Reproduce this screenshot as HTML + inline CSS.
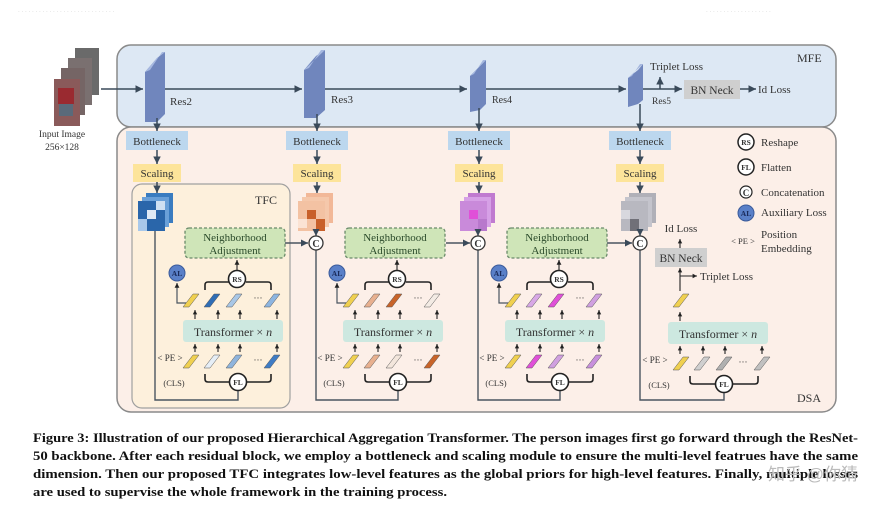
<!DOCTYPE html>
<html><head><meta charset="utf-8"><style>
html,body{margin:0;padding:0;background:#fff;width:878px;height:513px;overflow:hidden}
svg{display:block}
text{font-family:"Liberation Serif",serif;fill:#333}
.c{font-weight:bold;font-size:13px;fill:#111}
</style></head><body>
<svg width="878" height="513" viewBox="0 0 878 513" xmlns="http://www.w3.org/2000/svg">
<defs>
<marker id="a" markerWidth="6" markerHeight="6" refX="5" refY="3" orient="auto"><path d="M0,0.5 L5,3 L0,5.5z" fill="#3a4a5a"/></marker>
<marker id="b" markerWidth="5" markerHeight="5" refX="4" refY="2.5" orient="auto"><path d="M0,0.5 L4,2.5 L0,4.5z" fill="#222"/></marker>
</defs>
<text x="18" y="12" font-size="7" style="fill:#ddd">. . . . . . . . . . . . . . . . . . . . . . . . . . . .</text>
<text x="706" y="12" font-size="7" style="fill:#ddd">. . . . . . . . . . . . . . . . . . .</text>

<rect x="117" y="45" width="719" height="82" rx="14" fill="#dde8f4" stroke="#8a8a8a" stroke-width="1.5"/>
<rect x="117" y="127" width="719" height="285" rx="14" fill="#fcefe8" stroke="#8a8a8a" stroke-width="1.5"/>
<text x="797" y="62" font-size="12">MFE</text>
<text x="797" y="402" font-size="12">DSA</text>
<rect x="132" y="184" width="158" height="224" rx="10" fill="#fdf0dc" stroke="#a0a0a0" stroke-width="1.2"/>
<text x="255" y="204" font-size="12">TFC</text>

<rect x="75" y="48" width="24" height="47" fill="#6a6a6a"/>
<rect x="68" y="58" width="24" height="47" fill="#7a7070"/>
<rect x="61" y="68" width="24" height="47" fill="#756565"/>
<rect x="54" y="79" width="26" height="47" fill="#8a5a5a"/>
<rect x="58" y="88" width="16" height="16" fill="#9a2a30"/>
<rect x="59" y="104" width="14" height="12" fill="#5a6a7a"/>
<text x="62" y="137" font-size="9.5" text-anchor="middle">Input Image</text>
<text x="62" y="150" font-size="9.5" text-anchor="middle">256×128</text>

<g stroke="#3a4a5a" stroke-width="1.5" fill="none">
<line x1="101" y1="89" x2="143" y2="89" marker-end="url(#a)"/>
<line x1="158" y1="89" x2="302" y2="89" marker-end="url(#a)"/>
<line x1="318" y1="89" x2="467" y2="89" marker-end="url(#a)"/>
<line x1="482" y1="89" x2="626" y2="89" marker-end="url(#a)"/>
<line x1="640" y1="89" x2="682" y2="89" marker-end="url(#a)"/>
<line x1="740" y1="89" x2="756" y2="89" marker-end="url(#a)"/>
<line x1="660" y1="89" x2="660" y2="77" marker-end="url(#a)"/>
</g>
<polygon points="145,72 157,58 165,52 165,114 157,122 145,122" fill="#7086bd"/>
<polygon points="145,72 150,70 162,52 165,52 157,58" fill="#a6b8e0"/>
<polygon points="304,70 316,56 325,50 325,110 316,118 304,118" fill="#7086bd"/>
<polygon points="304,70 309,68 321,50 325,50" fill="#a6b8e0"/>
<polygon points="470,76 480,66 486,60 486,104 480,110 470,112" fill="#7086bd"/>
<polygon points="470,76 474,74 483,60 486,60" fill="#a6b8e0"/>
<polygon points="628,78 638,70 643,64 643,100 638,104 628,107" fill="#7086bd"/>
<polygon points="628,78 632,76 640,64 643,64" fill="#a6b8e0"/>
<text x="170" y="105" font-size="11">Res2</text>
<text x="331" y="103" font-size="11">Res3</text>
<text x="492" y="103" font-size="10">Res4</text>
<text x="652" y="104" font-size="9.5">Res5</text>
<text x="650" y="70" font-size="11">Triplet Loss</text>
<rect x="684" y="80" width="56" height="19" fill="#cfcfcf"/>
<text x="712" y="94" font-size="11.5" text-anchor="middle">BN Neck</text>
<text x="758" y="93" font-size="11">Id Loss</text>

<g stroke="#3a4a5a" stroke-width="1.5" fill="none">
<line x1="157" y1="118" x2="157" y2="131" marker-end="url(#a)"/>
<line x1="317" y1="114" x2="317" y2="131" marker-end="url(#a)"/>
<line x1="479" y1="108" x2="479" y2="131" marker-end="url(#a)"/>
<line x1="640" y1="104" x2="640" y2="131" marker-end="url(#a)"/>
</g>

<g>
<rect x="126" y="131" width="62" height="19" fill="#bcd7ee"/><text x="157" y="145" font-size="11" text-anchor="middle">Bottleneck</text>
<rect x="286" y="131" width="62" height="19" fill="#bcd7ee"/><text x="317" y="145" font-size="11" text-anchor="middle">Bottleneck</text>
<rect x="448" y="131" width="62" height="19" fill="#bcd7ee"/><text x="479" y="145" font-size="11" text-anchor="middle">Bottleneck</text>
<rect x="609" y="131" width="62" height="19" fill="#bcd7ee"/><text x="640" y="145" font-size="11" text-anchor="middle">Bottleneck</text>
<rect x="133" y="164" width="48" height="18" fill="#fde49a"/><text x="157" y="177" font-size="11" text-anchor="middle">Scaling</text>
<rect x="293" y="164" width="48" height="18" fill="#fde49a"/><text x="317" y="177" font-size="11" text-anchor="middle">Scaling</text>
<rect x="455" y="164" width="48" height="18" fill="#fde49a"/><text x="479" y="177" font-size="11" text-anchor="middle">Scaling</text>
<rect x="616" y="164" width="48" height="18" fill="#fde49a"/><text x="640" y="177" font-size="11" text-anchor="middle">Scaling</text>
</g>
<g stroke="#3a4a5a" stroke-width="1.5" fill="none">
<line x1="157" y1="150" x2="157" y2="164" marker-end="url(#a)"/>
<line x1="317" y1="150" x2="317" y2="164" marker-end="url(#a)"/>
<line x1="479" y1="150" x2="479" y2="164" marker-end="url(#a)"/>
<line x1="640" y1="150" x2="640" y2="164" marker-end="url(#a)"/>
<line x1="157" y1="182" x2="157" y2="193" marker-end="url(#a)"/>
<line x1="317" y1="182" x2="317" y2="193" marker-end="url(#a)"/>
<line x1="479" y1="182" x2="479" y2="193" marker-end="url(#a)"/>
<line x1="640" y1="182" x2="640" y2="193" marker-end="url(#a)"/>
</g>

<g>
<rect x="146" y="193" width="27" height="30" fill="#3a7cc0"/><rect x="142" y="197" width="27" height="30" fill="#6aa0d8"/><rect x="138" y="201" width="27" height="30" fill="#2a66aa"/>
<rect x="147" y="210" width="9" height="9" fill="#dfeaf6"/><rect x="138" y="219" width="9" height="12" fill="#a8c8ea"/><rect x="156" y="201" width="9" height="9" fill="#cfe0f2"/>
<rect x="306" y="193" width="27" height="30" fill="#f2b898"/><rect x="302" y="197" width="27" height="30" fill="#f5c8ab"/><rect x="298" y="201" width="27" height="30" fill="#f3c2a3"/>
<rect x="307" y="210" width="9" height="9" fill="#c8602a"/><rect x="316" y="219" width="9" height="12" fill="#c8602a"/><rect x="298" y="219" width="9" height="9" fill="#fbe3d4"/>
<rect x="468" y="193" width="27" height="30" fill="#c07ad0"/><rect x="464" y="197" width="27" height="30" fill="#d6a0e6"/><rect x="460" y="201" width="27" height="30" fill="#c98ada"/>
<rect x="469" y="210" width="9" height="9" fill="#e050d8"/><rect x="478" y="219" width="9" height="12" fill="#b878cc"/>
<rect x="629" y="193" width="27" height="30" fill="#b0b0b8"/><rect x="625" y="197" width="27" height="30" fill="#c4c4cc"/><rect x="621" y="201" width="27" height="30" fill="#b8b8c0"/>
<rect x="630" y="219" width="9" height="12" fill="#707078"/><rect x="621" y="210" width="9" height="9" fill="#d8d8de"/>
</g>

<g stroke="#4a5560" stroke-width="1.4" fill="none">
<polyline points="155,231 155,400 238,400 238,391"/>
<line x1="316" y1="231" x2="316" y2="236" marker-end="url(#a)"/>
<line x1="478" y1="231" x2="478" y2="236" marker-end="url(#a)"/>
<line x1="640" y1="231" x2="640" y2="236" marker-end="url(#a)"/>
<line x1="285" y1="243" x2="308" y2="243" marker-end="url(#a)"/>
<line x1="446" y1="243" x2="470" y2="243" marker-end="url(#a)"/>
<line x1="607" y1="243" x2="632" y2="243" marker-end="url(#a)"/>
<polyline points="316,250 316,400 398,400 398,391"/>
<polyline points="478,250 478,400 560,400 560,391"/>
<polyline points="640,250 640,400 724,400 724,391"/>
</g>
<g fill="#fff" stroke="#333" stroke-width="1.3">
<circle cx="316" cy="243" r="7"/><circle cx="478" cy="243" r="7"/><circle cx="640" cy="243" r="7"/>
</g>
<g font-size="10" font-weight="bold" text-anchor="middle">
<text x="316" y="247">C</text><text x="478" y="247">C</text><text x="640" y="247">C</text>
</g>

<g>
<rect x="185" y="228" width="100" height="30" rx="4" fill="#cfe5b8" stroke="#6a8a6a" stroke-dasharray="3,2" stroke-width="1.3"/>
<text x="235" y="241" font-size="11" text-anchor="middle" style="fill:#2a4a2a">Neighborhood</text>
<text x="235" y="254" font-size="11" text-anchor="middle" style="fill:#2a4a2a">Adjustment</text>
<path d="M205,290 v-5 q0,-3 3,-3 h22 M246,282 h22 q3,0 3,3 v5" stroke="#222" stroke-width="1.6" fill="none"/>
<line x1="237" y1="270" x2="237" y2="260" stroke="#333" stroke-width="1.2" marker-end="url(#b)"/>
<circle cx="237" cy="279" r="8.5" fill="#fff" stroke="#222" stroke-width="1.6"/>
<text x="237" y="282" font-size="7.5" font-weight="bold" text-anchor="middle">RS</text>
<polyline points="186,303 177,303 177,283" stroke="#4a5560" stroke-width="1.2" fill="none" marker-end="url(#b)"/>
<circle cx="177" cy="273" r="8" fill="#5a80c8" stroke="#3a5a9a"/>
<text x="177" y="276" font-size="7.5" font-weight="bold" text-anchor="middle" style="fill:#1a2a5a">AL</text>
<rect x="183" y="320" width="100" height="22" rx="3" fill="#cde8e0"/>
<text x="233" y="336" font-size="12" text-anchor="middle">Transformer × <tspan font-style="italic">n</tspan></text>
<g stroke="#222" stroke-width="1.1">
<line x1="195" y1="319" x2="195" y2="310" marker-end="url(#b)"/><line x1="218" y1="319" x2="218" y2="310" marker-end="url(#b)"/><line x1="240" y1="319" x2="240" y2="310" marker-end="url(#b)"/><line x1="277" y1="319" x2="277" y2="310" marker-end="url(#b)"/>
<line x1="195" y1="352" x2="195" y2="344" marker-end="url(#b)"/><line x1="218" y1="352" x2="218" y2="344" marker-end="url(#b)"/><line x1="240" y1="352" x2="240" y2="344" marker-end="url(#b)"/><line x1="277" y1="352" x2="277" y2="344" marker-end="url(#b)"/>
</g>
<text x="258" y="301" font-size="9" text-anchor="middle">···</text>
<text x="258" y="363" font-size="9" text-anchor="middle">···</text>
<text x="170" y="361" font-size="9" text-anchor="middle">&lt; PE &gt;</text>
<text x="174" y="386" font-size="8.5" text-anchor="middle">(CLS)</text>
<path d="M205,374 v5 q0,3 3,3 h21 M247,382 h21 q3,0 3,-3 v-5" stroke="#222" stroke-width="1.6" fill="none"/>
<circle cx="238" cy="382" r="8.5" fill="#fff" stroke="#222" stroke-width="1.6"/>
<text x="238" y="385" font-size="7.5" font-weight="bold" text-anchor="middle">FL</text>
</g>
<g transform="translate(160,0)">
<rect x="185" y="228" width="100" height="30" rx="4" fill="#cfe5b8" stroke="#6a8a6a" stroke-dasharray="3,2" stroke-width="1.3"/>
<text x="235" y="241" font-size="11" text-anchor="middle" style="fill:#2a4a2a">Neighborhood</text>
<text x="235" y="254" font-size="11" text-anchor="middle" style="fill:#2a4a2a">Adjustment</text>
<path d="M205,290 v-5 q0,-3 3,-3 h22 M246,282 h22 q3,0 3,3 v5" stroke="#222" stroke-width="1.6" fill="none"/>
<line x1="237" y1="270" x2="237" y2="260" stroke="#333" stroke-width="1.2" marker-end="url(#b)"/>
<circle cx="237" cy="279" r="8.5" fill="#fff" stroke="#222" stroke-width="1.6"/>
<text x="237" y="282" font-size="7.5" font-weight="bold" text-anchor="middle">RS</text>
<polyline points="186,303 177,303 177,283" stroke="#4a5560" stroke-width="1.2" fill="none" marker-end="url(#b)"/>
<circle cx="177" cy="273" r="8" fill="#5a80c8" stroke="#3a5a9a"/>
<text x="177" y="276" font-size="7.5" font-weight="bold" text-anchor="middle" style="fill:#1a2a5a">AL</text>
<rect x="183" y="320" width="100" height="22" rx="3" fill="#cde8e0"/>
<text x="233" y="336" font-size="12" text-anchor="middle">Transformer × <tspan font-style="italic">n</tspan></text>
<g stroke="#222" stroke-width="1.1">
<line x1="195" y1="319" x2="195" y2="310" marker-end="url(#b)"/><line x1="218" y1="319" x2="218" y2="310" marker-end="url(#b)"/><line x1="240" y1="319" x2="240" y2="310" marker-end="url(#b)"/><line x1="277" y1="319" x2="277" y2="310" marker-end="url(#b)"/>
<line x1="195" y1="352" x2="195" y2="344" marker-end="url(#b)"/><line x1="218" y1="352" x2="218" y2="344" marker-end="url(#b)"/><line x1="240" y1="352" x2="240" y2="344" marker-end="url(#b)"/><line x1="277" y1="352" x2="277" y2="344" marker-end="url(#b)"/>
</g>
<text x="258" y="301" font-size="9" text-anchor="middle">···</text>
<text x="258" y="363" font-size="9" text-anchor="middle">···</text>
<text x="170" y="361" font-size="9" text-anchor="middle">&lt; PE &gt;</text>
<text x="174" y="386" font-size="8.5" text-anchor="middle">(CLS)</text>
<path d="M205,374 v5 q0,3 3,3 h21 M247,382 h21 q3,0 3,-3 v-5" stroke="#222" stroke-width="1.6" fill="none"/>
<circle cx="238" cy="382" r="8.5" fill="#fff" stroke="#222" stroke-width="1.6"/>
<text x="238" y="385" font-size="7.5" font-weight="bold" text-anchor="middle">FL</text>
</g>
<g transform="translate(322,0)">
<rect x="185" y="228" width="100" height="30" rx="4" fill="#cfe5b8" stroke="#6a8a6a" stroke-dasharray="3,2" stroke-width="1.3"/>
<text x="235" y="241" font-size="11" text-anchor="middle" style="fill:#2a4a2a">Neighborhood</text>
<text x="235" y="254" font-size="11" text-anchor="middle" style="fill:#2a4a2a">Adjustment</text>
<path d="M205,290 v-5 q0,-3 3,-3 h22 M246,282 h22 q3,0 3,3 v5" stroke="#222" stroke-width="1.6" fill="none"/>
<line x1="237" y1="270" x2="237" y2="260" stroke="#333" stroke-width="1.2" marker-end="url(#b)"/>
<circle cx="237" cy="279" r="8.5" fill="#fff" stroke="#222" stroke-width="1.6"/>
<text x="237" y="282" font-size="7.5" font-weight="bold" text-anchor="middle">RS</text>
<polyline points="186,303 177,303 177,283" stroke="#4a5560" stroke-width="1.2" fill="none" marker-end="url(#b)"/>
<circle cx="177" cy="273" r="8" fill="#5a80c8" stroke="#3a5a9a"/>
<text x="177" y="276" font-size="7.5" font-weight="bold" text-anchor="middle" style="fill:#1a2a5a">AL</text>
<rect x="183" y="320" width="100" height="22" rx="3" fill="#cde8e0"/>
<text x="233" y="336" font-size="12" text-anchor="middle">Transformer × <tspan font-style="italic">n</tspan></text>
<g stroke="#222" stroke-width="1.1">
<line x1="195" y1="319" x2="195" y2="310" marker-end="url(#b)"/><line x1="218" y1="319" x2="218" y2="310" marker-end="url(#b)"/><line x1="240" y1="319" x2="240" y2="310" marker-end="url(#b)"/><line x1="277" y1="319" x2="277" y2="310" marker-end="url(#b)"/>
<line x1="195" y1="352" x2="195" y2="344" marker-end="url(#b)"/><line x1="218" y1="352" x2="218" y2="344" marker-end="url(#b)"/><line x1="240" y1="352" x2="240" y2="344" marker-end="url(#b)"/><line x1="277" y1="352" x2="277" y2="344" marker-end="url(#b)"/>
</g>
<text x="258" y="301" font-size="9" text-anchor="middle">···</text>
<text x="258" y="363" font-size="9" text-anchor="middle">···</text>
<text x="170" y="361" font-size="9" text-anchor="middle">&lt; PE &gt;</text>
<text x="174" y="386" font-size="8.5" text-anchor="middle">(CLS)</text>
<path d="M205,374 v5 q0,3 3,3 h21 M247,382 h21 q3,0 3,-3 v-5" stroke="#222" stroke-width="1.6" fill="none"/>
<circle cx="238" cy="382" r="8.5" fill="#fff" stroke="#222" stroke-width="1.6"/>
<text x="238" y="385" font-size="7.5" font-weight="bold" text-anchor="middle">FL</text>
</g>

<g>
<rect x="668" y="322" width="100" height="22" rx="3" fill="#cde8e0"/>
<text x="718" y="338" font-size="12" text-anchor="middle">Transformer × <tspan font-style="italic">n</tspan></text>
<g stroke="#222" stroke-width="1.1">
<line x1="680" y1="321" x2="680" y2="312" marker-end="url(#b)"/>
<line x1="680" y1="354" x2="680" y2="346" marker-end="url(#b)"/><line x1="703" y1="354" x2="703" y2="346" marker-end="url(#b)"/><line x1="725" y1="354" x2="725" y2="346" marker-end="url(#b)"/><line x1="762" y1="354" x2="762" y2="346" marker-end="url(#b)"/>
<line x1="680" y1="291" x2="680" y2="268" marker-end="url(#b)"/>
<line x1="680" y1="276" x2="697" y2="276" marker-end="url(#b)"/>
<line x1="680" y1="248" x2="680" y2="239" marker-end="url(#b)"/>
</g>
<rect x="655" y="248" width="52" height="19" fill="#cfcfcf"/>
<text x="681" y="262" font-size="11.5" text-anchor="middle">BN Neck</text>
<text x="681" y="232" font-size="11" text-anchor="middle">Id Loss</text>
<text x="700" y="280" font-size="11">Triplet Loss</text>
<text x="743" y="365" font-size="9" text-anchor="middle">···</text>
<text x="655" y="363" font-size="9" text-anchor="middle">&lt; PE &gt;</text>
<text x="659" y="388" font-size="8.5" text-anchor="middle">(CLS)</text>
<path d="M690,376 v5 q0,3 3,3 h22 M733,384 h22 q3,0 3,-3 v-5" stroke="#222" stroke-width="1.6" fill="none"/>
<circle cx="724" cy="384" r="8.5" fill="#fff" stroke="#222" stroke-width="1.6"/>
<text x="724" y="387" font-size="7.5" font-weight="bold" text-anchor="middle">FL</text>
</g>

<g stroke="#555" stroke-width="0.5">
<polygon points="183,307 193,294 199,294 189,307" fill="#f0d050"/>
<polygon points="204,307 214,294 220,294 210,307" fill="#2f6db5"/>
<polygon points="226,307 236,294 242,294 232,307" fill="#a9c7e6"/>
<polygon points="264,307 274,294 280,294 270,307" fill="#8db5e0"/>
<polygon points="183,368 193,355 199,355 189,368" fill="#f0d050"/>
<polygon points="204,368 214,355 220,355 210,368" fill="#e6eef6"/>
<polygon points="226,368 236,355 242,355 232,368" fill="#8fb4dc"/>
<polygon points="264,368 274,355 280,355 270,368" fill="#3f7cc4"/>
<polygon points="343,307 353,294 359,294 349,307" fill="#f0d050"/>
<polygon points="364,307 374,294 380,294 370,307" fill="#e8b08f"/>
<polygon points="386,307 396,294 402,294 392,307" fill="#c8642a"/>
<polygon points="424,307 434,294 440,294 430,307" fill="#f3ebe4"/>
<polygon points="343,368 353,355 359,355 349,368" fill="#f0d050"/>
<polygon points="364,368 374,355 380,355 370,368" fill="#e8b08f"/>
<polygon points="386,368 396,355 402,355 392,368" fill="#f3e6dc"/>
<polygon points="424,368 434,355 440,355 430,368" fill="#c8642a"/>
<polygon points="505,307 515,294 521,294 511,307" fill="#f0d050"/>
<polygon points="526,307 536,294 542,294 532,307" fill="#d8a8e6"/>
<polygon points="548,307 558,294 564,294 554,307" fill="#e050d8"/>
<polygon points="586,307 596,294 602,294 592,307" fill="#d0a0e0"/>
<polygon points="505,368 515,355 521,355 511,368" fill="#f0d050"/>
<polygon points="526,368 536,355 542,355 532,368" fill="#e050d8"/>
<polygon points="548,368 558,355 564,355 554,368" fill="#d0a0e0"/>
<polygon points="586,368 596,355 602,355 592,368" fill="#c890dc"/>
<polygon points="673,307 683,294 689,294 679,307" fill="#f0d050"/>
<polygon points="673,370 683,357 689,357 679,370" fill="#f0d050"/>
<polygon points="694,370 704,357 710,357 700,370" fill="#cfcfcf"/>
<polygon points="716,370 726,357 732,357 722,370" fill="#b0b0b0"/>
<polygon points="754,370 764,357 770,357 760,370" fill="#c0c0c0"/>
</g>

<g>
<circle cx="746" cy="142" r="8" fill="#fff" stroke="#222" stroke-width="1.5"/><text x="746" y="145" font-size="7.5" font-weight="bold" text-anchor="middle">RS</text>
<text x="761" y="146" font-size="11">Reshape</text>
<circle cx="746" cy="167" r="8" fill="#fff" stroke="#222" stroke-width="1.5"/><text x="746" y="170" font-size="7.5" font-weight="bold" text-anchor="middle">FL</text>
<text x="761" y="171" font-size="11">Flatten</text>
<circle cx="746" cy="192" r="6" fill="#fff" stroke="#222" stroke-width="1.2"/><text x="746" y="196" font-size="9" font-weight="bold" text-anchor="middle">C</text>
<text x="761" y="196" font-size="11">Concatenation</text>
<circle cx="746" cy="213" r="8" fill="#5a80c8" stroke="#3a5a9a"/><text x="746" y="216" font-size="7.5" font-weight="bold" text-anchor="middle" style="fill:#1a2a5a">AL</text>
<text x="761" y="216" font-size="11">Auxiliary Loss</text>
<text x="743" y="244" font-size="8.5" text-anchor="middle">&lt; PE &gt;</text>
<text x="761" y="238" font-size="11">Position</text>
<text x="761" y="252" font-size="11">Embedding</text>
</g>

<!-- caption -->
<text class="c" x="33" y="442" textLength="825" lengthAdjust="spacingAndGlyphs">Figure 3: Illustration of our proposed Hierarchical Aggregation Transformer. The person images first go forward through the ResNet-</text>
<text class="c" x="33" y="460" textLength="825" lengthAdjust="spacingAndGlyphs">50 backbone. After each residual block, we employ a bottleneck and scaling module to ensure the multi-level featrues have the same</text>
<text class="c" x="33" y="478" textLength="825" lengthAdjust="spacingAndGlyphs">dimension. Then our proposed TFC integrates low-level features as the global priors for high-level features. Finally, multiple losses</text>
<text class="c" x="33" y="496" textLength="414" lengthAdjust="spacingAndGlyphs">are used to supervise the whole framework in the training process.</text>
<text x="768" y="480" font-size="17" style="fill:#bbb;font-family:'Liberation Sans','Noto Sans CJK SC',sans-serif">知乎 @你猜</text>
</svg>
</body></html>
